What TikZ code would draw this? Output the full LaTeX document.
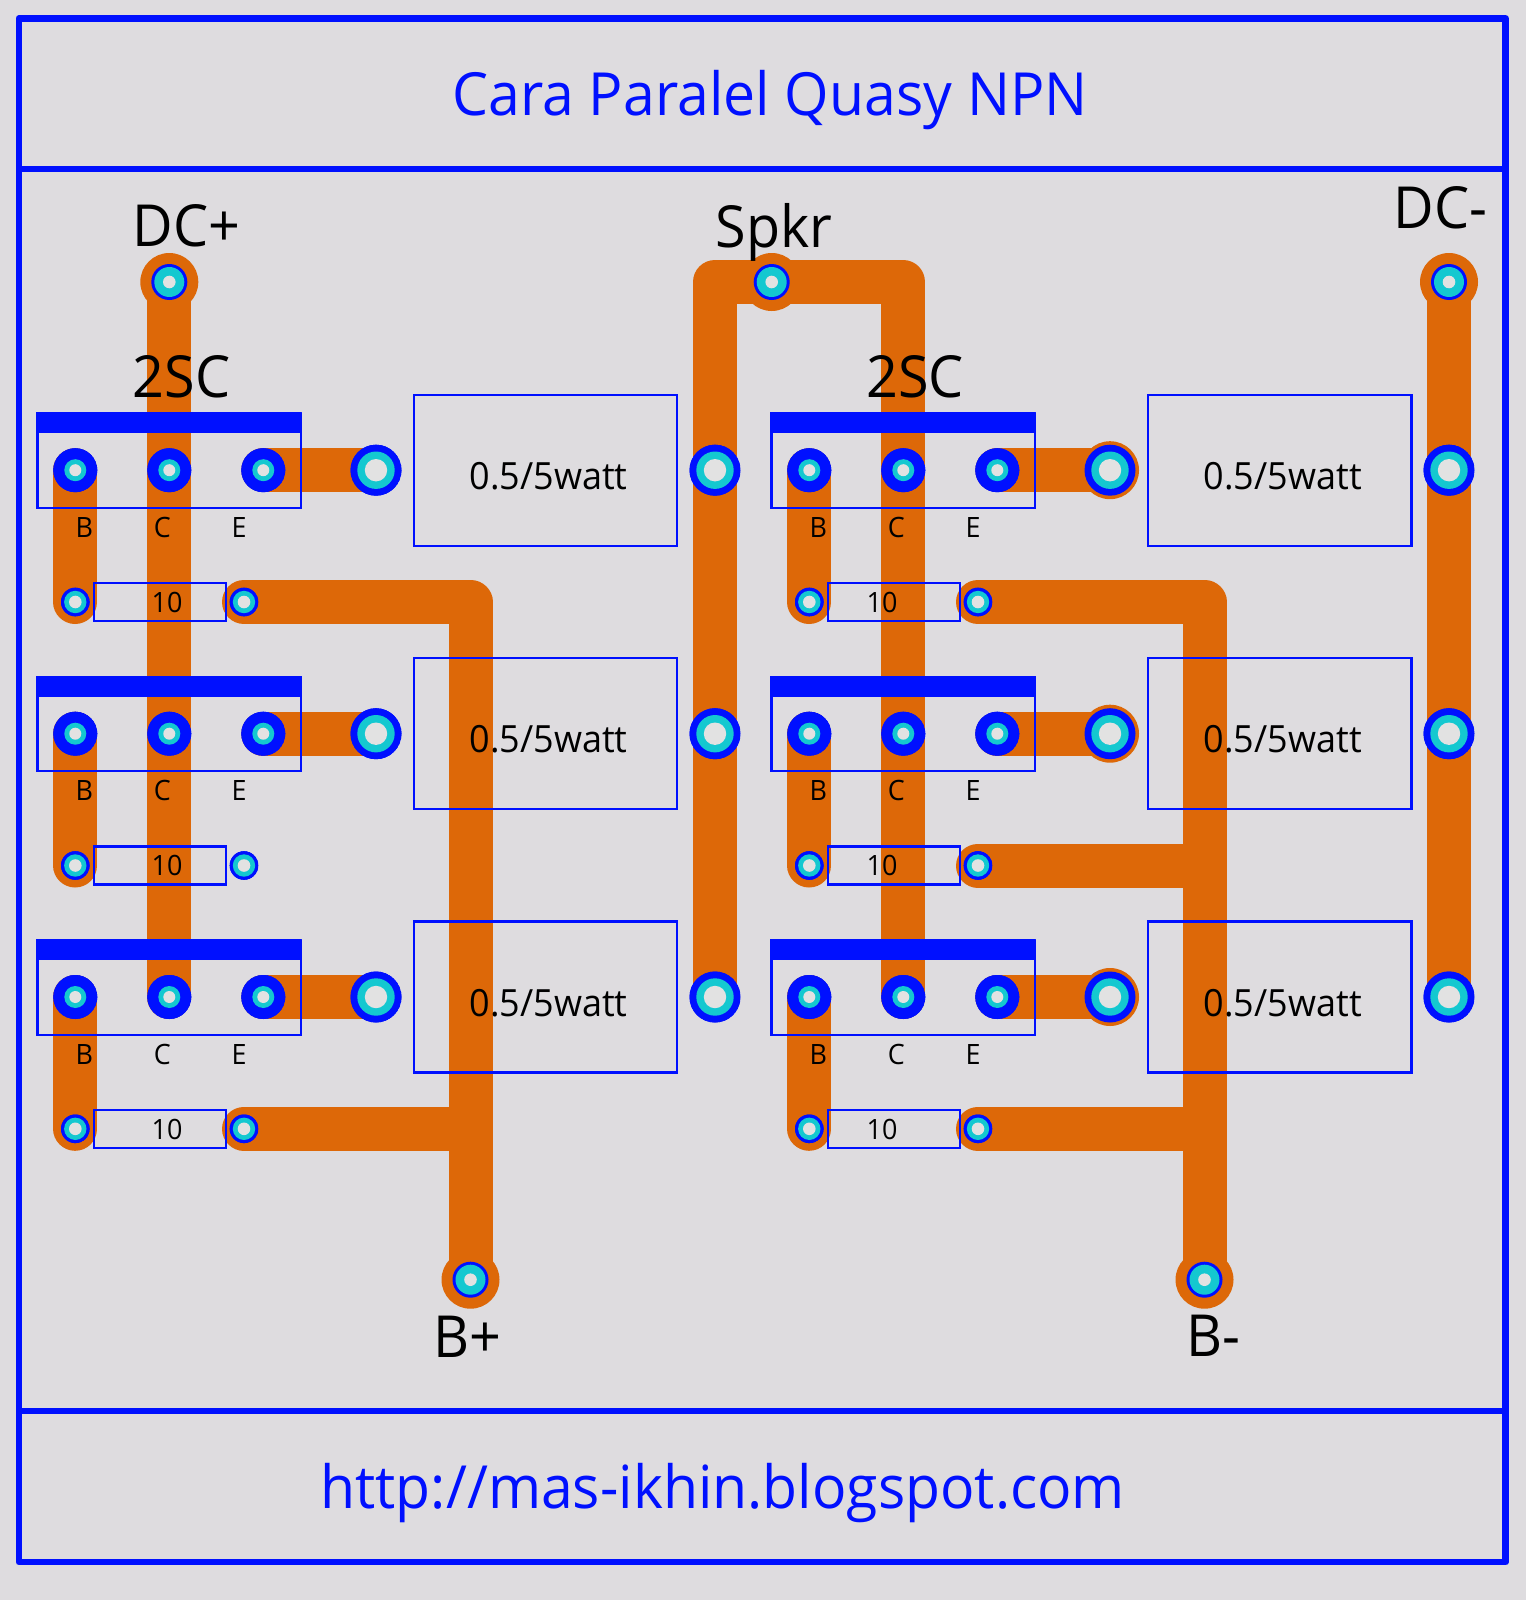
\documentclass[tikz,border=0pt]{standalone}
\usepackage{fontspec}
\setmainfont[FakeStretch=0.96]{Open Sans}
\definecolor{pagegrey}{HTML}{DEDCDF}
\definecolor{trackorange}{HTML}{DD6808}
\definecolor{lineblue}{HTML}{0010FF}
\definecolor{ringcyan}{HTML}{14C8D0}
\definecolor{holegrey}{HTML}{E2E2E2}
\pgfdeclarelayer{tracks}
\pgfsetlayers{tracks,main}
\tikzset{
  pad/.style n args={5}{circle,inner sep=0pt,minimum size=#2*2pt,fill=#1,
    path picture={
      \fill[lineblue] (path picture bounding box.center) circle (#3pt);
      \fill[ringcyan] (path picture bounding box.center) circle (#4pt);
      \fill[holegrey] (path picture bounding box.center) circle (#5pt);}},
  legpad/.style={pad={lineblue}{22}{22}{11}{6}},
  respad/.style={pad={lineblue}{14.3}{14.3}{11.2}{6.3}},
  bigpad/.style={pad={lineblue}{25.5}{25.5}{18.7}{11.2}},
  bighalo/.style={pad={trackorange}{29}{25.5}{18.7}{11.2}},
  endpad/.style={pad={trackorange}{29}{18}{15}{6.3}},
  track/.style={draw=trackorange,line width=44pt,line cap=round,line join=round},
  outline/.style={draw=lineblue,line width=2.2pt,inner sep=0pt},
  tag/.style={inner sep=0pt,anchor=base,text=black},
  bigtag/.style={tag,font=\fontsize{58}{70}\selectfont},
  smalltag/.style={tag,font=\fontsize{28}{34}\selectfont},
  watttag/.style={tag,font=\fontsize{37.5}{45}\selectfont},
  headtag/.style={tag,text=lineblue,font=\fontsize{59.5}{70}\selectfont},
}
\begin{document}
\begin{tikzpicture}
    [x=1pt,y=-1pt]
    \useasboundingbox (0,0) rectangle (1526,1600);
    \begin{pgfonlayer}{tracks}
      \fill[pagegrey] (0,0) rectangle (1526,1600);
    \end{pgfonlayer}
    \draw[lineblue,line width=6.5pt,line join=round] (18.9,18.4) rectangle (1505.7,1562);
    \draw[lineblue,line width=6.5pt] (18.9,169) -- (1505.7,169);
    \draw[lineblue,line width=6.5pt] (18.9,1410.8) -- (1505.7,1410.8);
    \node[endpad] (dcplus) at (169.3,282) {};
    \node[endpad] (spk) at (771.7,282) {};
    \node[endpad] (dcminus) at (1449,282) {};
    \node[endpad] (bplus) at (470.5,1279.7) {};
    \node[endpad] (bminus) at (1204.5,1279.7) {};
    \foreach \s/\dx/\mx/\wx/\big in {l/0/715/545.6/bigpad,r/734/1449/1279.7/bighalo}
      \foreach \n/\y in {a/470.2,b/733.7,c/997} {
        \node[outline,minimum width=263.7pt,minimum height=94pt] (case\s\n) at (169.3+\dx,\y-9.4) {};
        \node[fill=lineblue,draw=lineblue,line width=1pt,line join=round,inner sep=0pt,minimum width=265pt,minimum height=20pt] (bar\s\n) at (169.3+\dx,\y-47.3) {};
        \node[legpad] (b\s\n) at (75.3+\dx,\y) {};
        \node[legpad] (c\s\n) at (169.3+\dx,\y) {};
        \node[legpad] (e\s\n) at (263.3+\dx,\y) {};
        \node[\big] (big\s\n) at (376+\dx,\y) {};
        \node[bigpad] (mid\s\n) at (\mx,\y) {};
        \node[respad] (rb\s\n) at (75.3+\dx,\y+131.8) {};
        \node[respad] (re\s\n) at (244+\dx,\y+131.8) {};
        \node[outline,minimum width=132pt,minimum height=38pt] (res\s\n) at (159.7+\dx,\y+131.8) {};
        \node[outline,minimum width=263.5pt,minimum height=151pt] (watt\s\n) at (\wx,\y) {};
        \node[watttag] (wt\s\n) at (\wx+3,\y+19) {0.5/5watt};
        \node[smalltag] (lb\s\n) at (84.3+\dx,\y+67) {B};
        \node[smalltag] (lc\s\n) at (162.3+\dx,\y+67) {C};
        \node[smalltag] (le\s\n) at (239+\dx,\y+67) {E};
        \begin{pgfonlayer}{tracks}
          \draw[track] (b\s\n.center) -- (rb\s\n.center);
          \draw[track] (e\s\n.center) -- (big\s\n.center);
          \draw[track] (mid\s a.center) -- (mid\s\n.center);
        \end{pgfonlayer}
      }
    \foreach \n/\y in {a/612.7,b/875.8,c/1139.5} {
      \node[smalltag] (tenl\n) at (167,\y) {10};
      \node[smalltag] (tenr\n) at (882,\y) {10};
    }
    \begin{pgfonlayer}{tracks}
      \draw[track] (dcplus.center) -- (clc.center);
      \draw[track] (dcminus.center) -- (midra.center);
      \draw[track] (midlc.center) |- (spk.center) -| (crc.center);
      \draw[track] (rela.center) -| (bplus.center);
      \draw[track] (relc.center) -- (relc.center -| bplus.center);
      \draw[track] (rera.center) -| (bminus.center);
      \draw[track] (rerb.center) -- (rerb.center -| bminus.center);
      \draw[track] (rerc.center) -- (rerc.center -| bminus.center);
    \end{pgfonlayer}
    \node[bigtag] (dcplustag) at (186.7,246.7) {DC+};
    \node[bigtag] (spktag) at (774,247.3) {Spkr};
    \node[bigtag] (dcminustag) at (1440.5,228.3) {DC-};
    \node[bigtag] (typel) at (181.6,397.3) {2SC};
    \node[bigtag] (typer) at (915,397.3) {2SC};
    \node[bigtag] (bplustag) at (467.5,1357) {B+};
    \node[bigtag] (bminustag) at (1213,1356.5) {B-};
    \node[headtag] (title) at (770,116) {Cara Paralel Quasy NPN};
    \node[headtag] (site) at (722.8,1508) {http://mas-ikhin.blogspot.com};
  \end{tikzpicture}
\end{document}
